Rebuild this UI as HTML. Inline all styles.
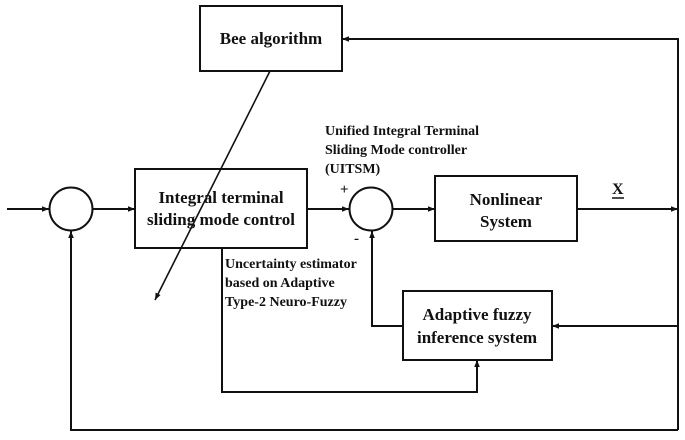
<!DOCTYPE html>
<html><head><meta charset="utf-8"><style>
html,body{margin:0;padding:0;background:#fff;}
svg{display:block;}
text{font-family:"Liberation Serif",serif;font-weight:bold;fill:#111;}
</style></head><body>
<svg width="685" height="440" viewBox="0 0 685 440" xmlns="http://www.w3.org/2000/svg">
<defs>
<marker id="a" viewBox="0 0 10 10" refX="10" refY="5" markerWidth="7" markerHeight="7" orient="auto-start-reverse" markerUnits="userSpaceOnUse">
<path d="M0,1 L10,5 L0,9 z" fill="#111"/></marker>
</defs>
<g stroke="#111" stroke-width="2" fill="none">
<rect x="200" y="6" width="142" height="65"/>
<rect x="135" y="169" width="172" height="79"/>
<rect x="435" y="176" width="142" height="65"/>
<rect x="403" y="291" width="149" height="69"/>
<circle cx="71" cy="209" r="21.5"/>
<circle cx="371" cy="209" r="21.5"/>
<line x1="7" y1="209" x2="49" y2="209" marker-end="url(#a)"/>
<line x1="93" y1="209" x2="135" y2="209" marker-end="url(#a)"/>
<line x1="307" y1="209" x2="349" y2="209" marker-end="url(#a)"/>
<line x1="393" y1="209" x2="435" y2="209" marker-end="url(#a)"/>
<line x1="577" y1="209" x2="678" y2="209" marker-end="url(#a)"/>
<polyline points="678,430 678,39 342,39" marker-end="url(#a)"/>
<line x1="678" y1="326" x2="552" y2="326" marker-end="url(#a)"/>
<polyline points="403,326 372,326 372,231" marker-end="url(#a)"/>
<polyline points="222,248 222,392 477,392 477,360" marker-end="url(#a)"/>
<polyline points="678,430 71,430 71,231" marker-end="url(#a)"/>
<line x1="270" y1="71" x2="155" y2="300" stroke-width="1.6" marker-end="url(#a)"/>
<line x1="612" y1="198" x2="624" y2="198" stroke-width="1.5"/>
</g>
<text x="271" y="44" font-size="17" text-anchor="middle">Bee algorithm</text>
<text x="221" y="203" font-size="17" text-anchor="middle">Integral terminal</text>
<text x="221" y="225" font-size="17" text-anchor="middle">sliding mode control</text>
<text x="506" y="205" font-size="17" text-anchor="middle">Nonlinear</text>
<text x="506" y="227" font-size="17" text-anchor="middle">System</text>
<text x="477" y="320" font-size="17" text-anchor="middle">Adaptive fuzzy</text>
<text x="477" y="343" font-size="17" text-anchor="middle">inference system</text>
<text x="325" y="135" font-size="14">Unified Integral Terminal</text>
<text x="325" y="154" font-size="14">Sliding Mode controller</text>
<text x="325" y="173" font-size="14">(UITSM)</text>
<text x="225" y="268" font-size="14">Uncertainty estimator</text>
<text x="225" y="287" font-size="14">based on Adaptive</text>
<text x="225" y="306" font-size="14">Type-2 Neuro-Fuzzy</text>
<text x="340" y="194" font-size="15">+</text>
<text x="354" y="243" font-size="15">-</text>
<text x="612" y="194" font-size="16">X</text>
</svg>
</body></html>
